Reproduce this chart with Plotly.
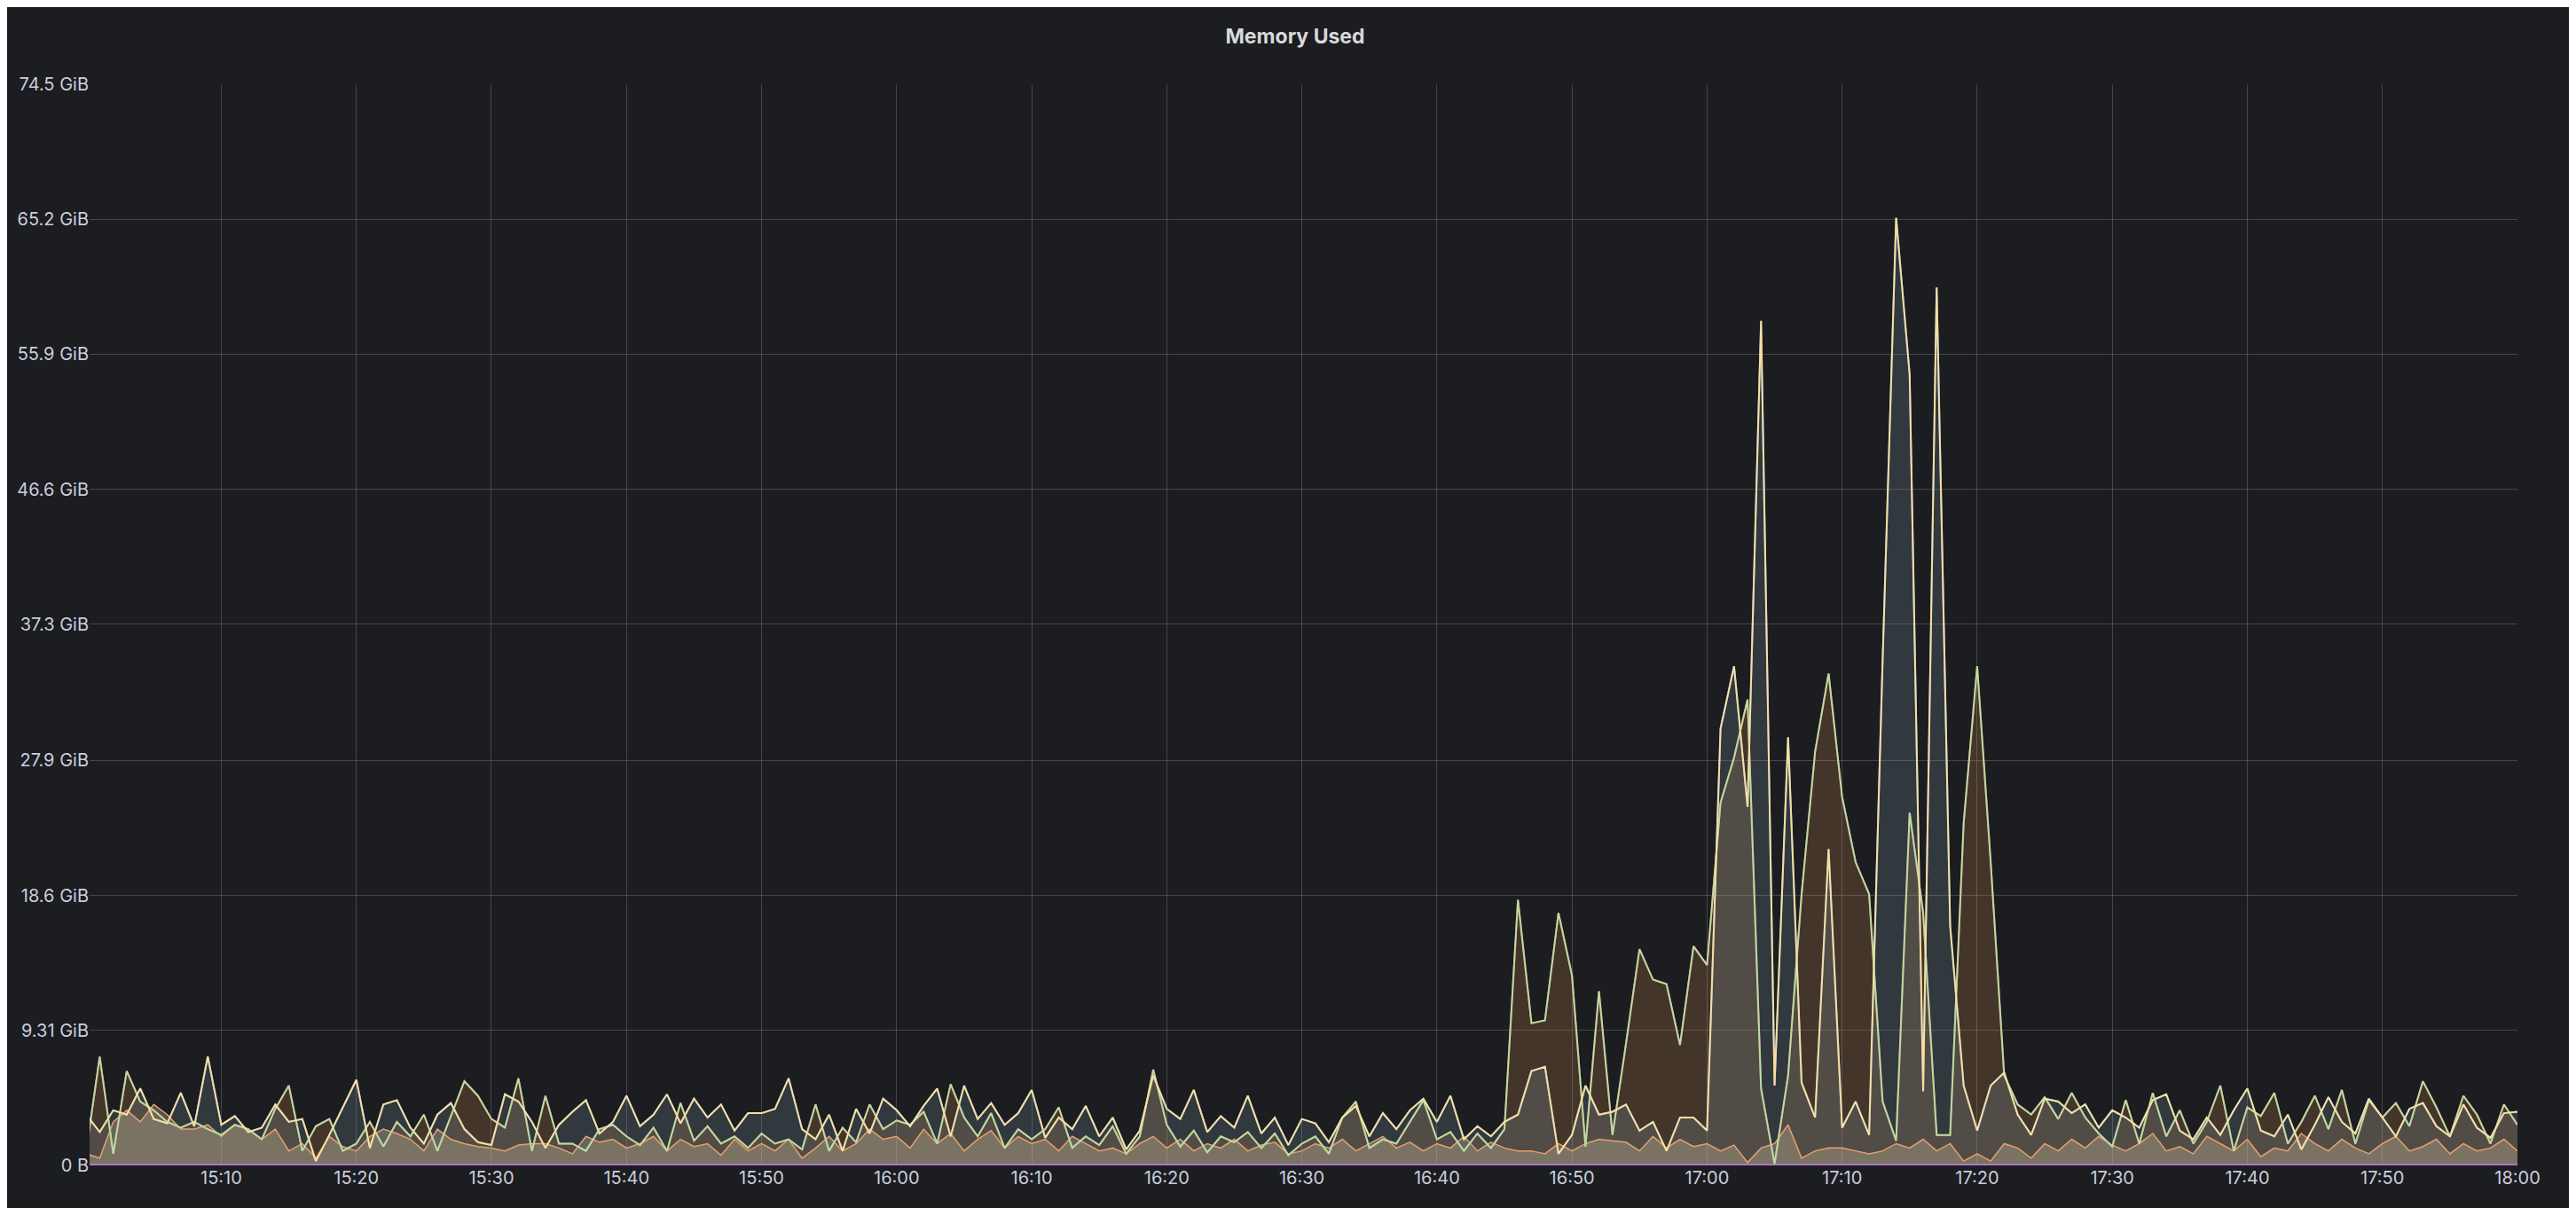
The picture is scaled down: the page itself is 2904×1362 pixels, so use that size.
import pandas as pd
import plotly.graph_objects as go

times = pd.date_range("2024-01-01 15:00", "2024-01-01 18:00", freq="1min")

series_b = [3.5,2.3,3.8,3.5,5.3,3.2,2.9,5.0,2.7,7.5,
 2.8,3.4,2.3,2.6,4.2,3.0,3.2,0.3,2.1,4.0,
 5.9,1.2,4.2,4.5,2.6,1.5,3.5,4.3,2.5,1.6,
 1.4,4.9,4.4,3.0,1.2,2.8,3.7,4.5,2.2,3.0,
 4.8,2.7,3.5,4.9,2.9,4.6,3.3,4.2,2.4,3.6,
 3.6,3.9,6.0,2.5,1.8,3.5,1.0,3.9,2.2,4.6,
 3.8,2.7,4.1,5.3,2.0,5.5,3.2,4.3,2.8,3.6,
 5.2,1.9,3.3,2.5,4.1,2.0,3.3,1.1,2.4,6.2,
 3.9,3.2,5.2,2.3,3.4,2.6,4.8,2.2,3.3,1.4,
 3.2,2.9,1.6,3.3,4.1,2.0,3.6,2.5,3.8,4.6,
 3.0,4.8,1.8,2.7,2.0,3.0,
 3.5,6.5,6.8,0.8,2.1,5.5,3.5,3.7,4.2,2.4,3.0,1.0,3.3,3.3,2.4,
 30.1,34.4,24.7,58.2,5.5,29.5,5.7,3.3,21.8,2.6,4.4,2.1,34.8,65.3,54.5,5.1,60.5,16.5,5.5,2.4,5.5,6.4,3.5,2.1,
 4.6,4.4,3.6,4.2,2.6,3.8,3.3,2.6,4.5,4.9,2.4,1.8,3.3,2.1,3.8,5.3,2.4,2.0,3.5,1.1,
 2.8,4.7,3.0,2.2,4.6,3.3,2.0,3.9,4.3,2.7,2.0,4.2,2.6,1.9,3.6,3.7]

series_a = [1.0,7.5,0.8,6.5,4.4,3.8,3.0,2.6,3.0,2.5,
 2.1,2.8,2.5,1.8,3.9,5.5,1.0,2.7,3.2,1.0,
 1.5,3.0,1.3,3.0,2.0,3.5,1.0,3.4,5.8,4.8,
 3.2,2.6,6.0,1.0,4.8,1.5,1.5,1.0,2.5,2.8,
 2.0,1.4,2.6,1.0,4.3,1.7,2.7,1.5,2.0,1.2,
 2.2,1.5,1.8,1.1,4.2,1.0,2.6,1.6,4.2,2.5,
 3.1,2.8,3.7,1.5,5.6,3.3,2.0,3.6,1.2,2.5,
 1.8,2.5,4.0,1.2,2.0,1.4,2.7,0.8,2.0,6.6,
 2.8,1.3,2.4,0.9,2.0,1.6,2.3,1.2,2.2,0.7,
 1.5,2.0,0.8,3.3,4.4,1.2,1.8,1.5,3.0,4.5,
 1.8,2.3,1.0,2.2,1.2,2.5,
 18.3,9.8,10.0,17.4,13.1,1.3,12.0,2.1,8.4,14.9,12.8,12.5,8.3,15.1,13.8,
 25.0,28.1,32.1,5.3,0.1,6.2,18.7,28.5,33.9,25.4,20.9,18.7,4.4,1.7,24.3,17.4,2.1,2.1,23.6,34.4,20.9,6.2,4.2,3.5,
 4.7,3.2,5.0,3.3,2.2,1.3,4.5,1.5,5.0,2.0,3.8,1.5,3.0,5.5,1.0,4.0,3.4,5.0,1.5,3.0,
 4.8,2.5,5.2,1.5,4.5,3.3,4.3,2.7,5.8,4.0,2.0,4.8,3.5,1.5,4.2,2.8]

series_c = [0.8,0.5,3.0,3.8,3.0,4.2,3.5,2.5,2.5,2.8,
 2.0,2.8,2.5,1.8,2.5,1.0,1.5,0.5,2.0,1.3,
 1.0,2.0,2.5,2.2,1.8,1.0,2.5,1.8,1.5,1.3,
 1.2,1.0,1.4,1.5,1.5,1.2,0.8,2.0,1.6,1.8,
 1.2,1.5,2.0,1.0,1.8,1.3,1.5,0.7,1.8,1.0,
 1.5,1.0,1.8,0.5,1.2,2.0,1.0,1.5,2.5,1.8,
 2.0,1.2,2.5,1.5,2.2,1.0,1.8,2.4,1.2,2.0,
 1.5,1.8,1.0,2.0,1.5,1.0,1.2,0.8,1.5,2.0,
 1.2,1.8,1.0,1.5,1.2,1.8,1.0,1.4,1.6,0.8,
 1.0,1.5,1.2,1.8,1.0,1.5,2.0,1.2,1.6,1.0,
 1.5,1.2,2.0,1.0,1.6,1.2,
 1.0,1.0,0.8,1.5,1.0,1.5,1.8,1.7,1.6,1.0,2.0,1.2,1.8,1.3,1.5,
 1.0,1.4,0.2,1.2,1.5,2.8,0.5,1.0,1.2,1.2,1.0,0.8,1.0,1.5,1.2,1.8,1.0,1.5,0.3,0.8,0.3,1.5,1.2,0.5,
 1.5,1.0,1.8,1.2,2.0,1.4,1.0,1.5,2.2,1.0,1.3,0.8,2.0,1.5,1.0,1.8,0.6,1.2,1.0,2.2,
 1.5,1.0,1.8,1.2,0.8,1.5,2.0,1.0,1.3,1.8,0.8,1.5,1.0,1.2,1.8,1.0]

series_p = [0.05] * len(times)

y_ticks = [0, 9.31, 18.6, 27.9, 37.3, 46.6, 55.9, 65.2, 74.5]
y_labels = ["0 B", "9.31 GiB", "18.6 GiB", "27.9 GiB", "37.3 GiB", "46.6 GiB", "55.9 GiB", "65.2 GiB", "74.5 GiB"]

fig = go.Figure()
def add(y, color, fill, width=2):
    fig.add_trace(go.Scatter(x=times, y=y, mode="lines", line=dict(color=color, width=width),
                             fill="tozeroy" if fill else None, fillcolor=fill, showlegend=False))

add(series_a, "#F2495C", "rgba(230,150,80,0.20)")
add(series_b, "#5794F2", "rgba(150,185,195,0.18)")
add(series_c, "#E8A070", "rgba(220,205,170,0.30)", 1.5)
add(series_a, "#B5DDA0", None)
add(series_b, "#FADE9C", None)
add(series_p, "#B877D9", None)

fig.update_layout(
    width=2904, height=1362,
    paper_bgcolor="#1b1d21", plot_bgcolor="#1b1d21",
    margin=dict(l=93, r=74, t=87, b=56),
    title=dict(text="<b>Memory Used</b>", x=0.5, xanchor="center", y=0.976, yanchor="middle",
               font=dict(family="Inter", size=23, color="#d8d9da")),
    font=dict(family="Inter", size=20, color="#ccccdc"),
)
fig.update_xaxes(type="date", range=["2024-01-01 15:00:15", "2024-01-01 18:00"],
                 dtick=600000, tickformat="%H:%M", showgrid=True,
                 gridcolor="rgba(255,255,255,0.18)", zeroline=False, showline=False, ticks="")
fig.update_yaxes(range=[0, 74.5], tickvals=y_ticks, ticktext=y_labels, showgrid=True,
                 gridcolor="rgba(255,255,255,0.18)", zeroline=False, ticks="")
fig.write_html("out.html")
